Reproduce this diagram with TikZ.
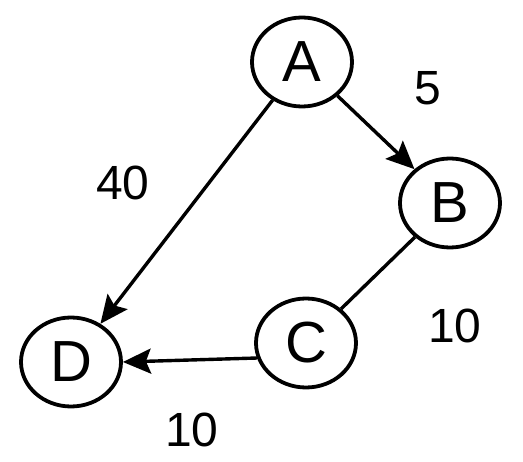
\documentclass[tikz,border=0pt]{standalone}
\usepackage{fontspec}
\setmainfont{Liberation Sans}
\usetikzlibrary{shapes.geometric,arrows.meta}
\begin{document}
\begin{tikzpicture}[x=1pt,y=-1pt,
  vert/.style={ellipse,draw,line width=3.8pt,minimum width=100pt,minimum height=89pt,inner sep=0pt,font=\fontsize{58}{58}\selectfont},
  wlabel/.style={font=\fontsize{48}{48}\selectfont,inner sep=0pt},
  edge/.style={line width=3.4pt},
  arr/.style={edge,-{Stealth[length=28pt,width=25pt,inset=5pt]}}]
\useasboundingbox (0,0) rectangle (523,462);
\node[vert] (A) at (302,62) {A};
\node[vert] (B) at (450,203) {B};
\node[vert] (C) at (306,343) {C};
\node[vert] (D) at (71,362) {D};
\draw[arr] (A) -- (B);
\draw[arr] (A) -- (D);
\draw[edge] (B) -- (C);
\draw[arr] (C.197) -- (D.east);
\node[wlabel] (l5) at (428,88) {5};
\node[wlabel] (l40) at (123,183) {40};
\node[wlabel] (l10a) at (455,326) {10};
\node[wlabel] (l10b) at (192,430) {10};
\end{tikzpicture}
\end{document}
